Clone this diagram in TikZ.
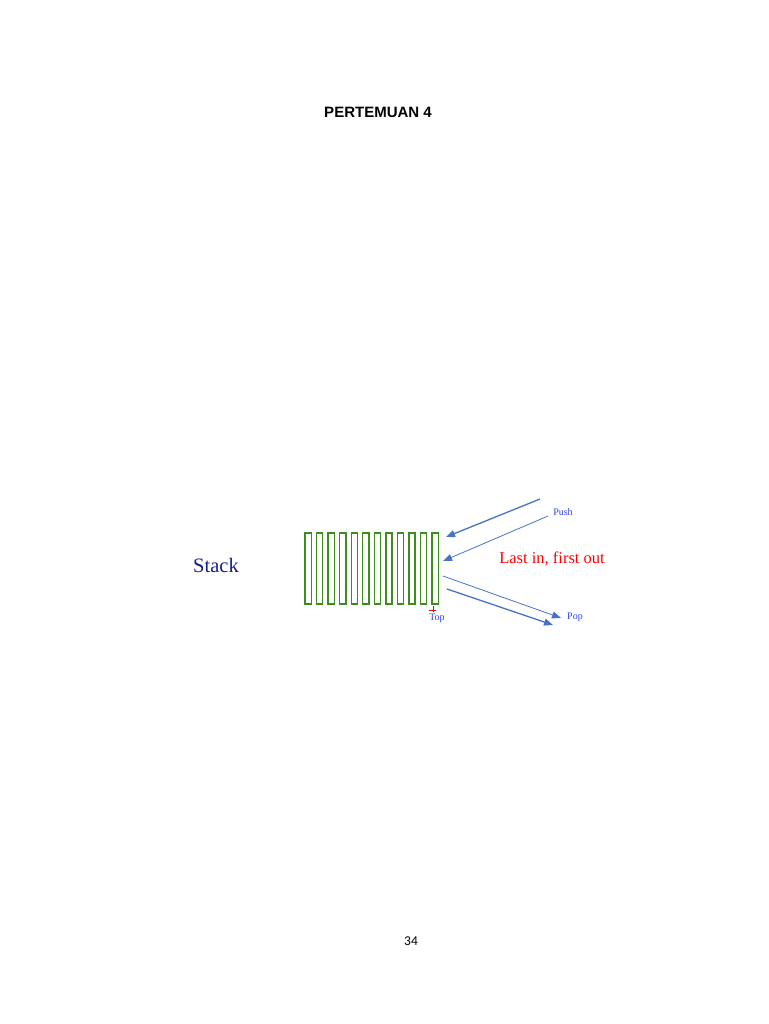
\documentclass[tikz,border=0pt]{standalone}
\usepackage{fontspec}
\setmainfont{Liberation Serif}
\newfontfamily\arialfont{Liberation Sans}
\newfontfamily\calibrifont{Carlito}
\usepackage{xcolor}
\usetikzlibrary{arrows.meta}
\definecolor{stackgreen}{RGB}{60,140,30}
\definecolor{arrowblue}{RGB}{70,115,200}
\definecolor{labelblue}{RGB}{50,70,230}
\definecolor{navy}{RGB}{20,30,140}

\begin{document}
\begin{tikzpicture}[x = 1pt, y = -1pt]
\useasboundingbox [fill = white] (0,0) rectangle (768,1024);
%\draw [gray] (0,0) rectangle (768,1024);
\node (title) at (378,112) {\arialfont\bfseries\fontsize{15}{18}\selectfont PERTEMUAN 4};
\node (page) at (411,941) {\calibrifont\fontsize{13.5}{16}\selectfont 34};
% the stack
\foreach \i in {0,...,11}
  \draw [stackgreen, line width = 1.4pt] (305+11.55*\i,533) rectangle ++(6.2,71);
\node [navy] (stack) at (216,565) {\fontsize{20.5}{24}\selectfont Stack};
\node [red] (lifo) at (552,559) {\fontsize{16.5}{19}\selectfont Last in,\ first out};
\node [labelblue, inner sep = 1pt] (top) at (437,618) {\fontsize{10}{11}\selectfont Top};
\draw [red, line width = 0.6pt] (429,610) -- (436,610);
\draw [red, line width = 0.6pt] (433,606) -- (433,612);
\node [labelblue, inner sep = 1pt] (push) at (563,512) {\fontsize{10}{11}\selectfont Push};
\node [labelblue, inner sep = 1pt] (pop) at (575,617) {\fontsize{10}{11}\selectfont Pop};
% push and pop arrows
\coordinate (pushA) at (540,499);
\coordinate (pushAend) at (446,537);
\coordinate (pushB) at (548,516);
\coordinate (pushBend) at (443,561);
\coordinate (popA) at (443,576);
\coordinate (popAend) at (561,618);
\coordinate (popB) at (447,589);
\coordinate (popBend) at (553,625);
\draw [-{Triangle[length=9pt,width=7pt]}, arrowblue, line width = 1.3pt] (pushA) -- (pushAend);
\draw [-{Triangle[length=9pt,width=7pt]}, arrowblue, line width = 0.8pt] (pushB) -- (pushBend);
\draw [-{Triangle[length=9pt,width=7pt]}, arrowblue, line width = 0.8pt] (popA) -- (popAend);
\draw [-{Triangle[length=9pt,width=7pt]}, arrowblue, line width = 1.3pt] (popB) -- (popBend);
\end{tikzpicture}
\end{document}
